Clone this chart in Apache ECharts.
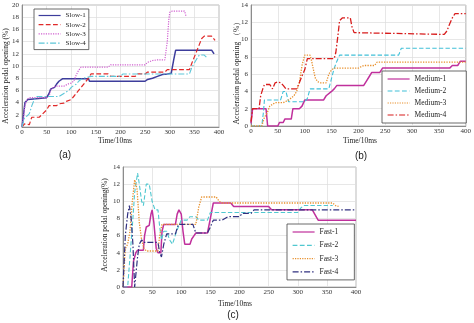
<!DOCTYPE html>
<html><head><meta charset="utf-8">
<script src="https://cdn.jsdelivr.net/npm/echarts@6/dist/echarts.min.js"></script>
<style>html,body{margin:0;padding:0;background:#fff}#c{width:474px;height:323px}</style>
</head><body><div id="c"></div>
<script>
// ---- Data ----
const xTicks = [0,50,100,150,200,250,300,350,400];

const slow1T = [0,3,6,8,12,15,50,55,58,62,66,70,75,82,85,135,137,250,255,265,275,285,295,303,308,312,385,390];
const slow1V = [0,2,4,4.3,4.5,4.8,4.8,5.5,6.2,6.3,6.5,7.0,7.5,7.9,7.9,7.9,7.5,7.5,7.8,8.0,8.3,8.6,8.7,8.8,11,12.6,12.6,12.0];
const slow2T = [0,3,5,8,15,18,20,35,40,50,55,70,75,85,90,100,105,110,115,120,125,130,135,140,175,180,230,235,250,255,290,295,340,345,350,355,360,365,370,385,392];
const slow2V = [0,0.3,0.5,0.4,0.4,1.2,1.6,1.6,2.0,2.8,3.5,3.5,3.8,3.9,4.2,4.5,5.0,5.5,6.0,6.5,7.0,7.5,8.0,8.7,8.7,8.3,8.3,8.7,8.7,9.0,9.0,9.4,9.4,10.5,11.5,12.5,13.5,14.5,14.9,14.9,14.2];
const slow3T = [0,3,6,10,15,50,55,58,62,68,85,90,95,100,105,110,115,120,175,180,250,255,265,275,290,295,298,300,305,330,333];
const slow3V = [0,1.5,3.5,4.5,4.8,4.8,5.0,6.0,6.4,6.7,6.7,6.9,7.1,7.2,7.5,8.5,9.3,9.8,9.8,10.2,10.2,10.6,10.9,11.0,11.0,14,17.5,18.8,19.0,19.0,18.2];
const slow4T = [0,5,10,15,20,25,30,75,85,95,100,105,110,115,120,125,130,140,200,205,340,345,350,355,360,370,375];
const slow4V = [0,1.5,1.8,2.2,3.5,4.5,5.0,5.0,5.5,6.0,6.5,6.8,7.0,7.5,7.8,8.0,8.1,8.3,8.3,8.7,8.7,9.8,10.5,11.2,11.8,11.8,11.4];

const med1T = [0,3,28,31,50,53,60,63,75,78,90,95,100,135,140,150,155,160,210,215,220,225,240,245,370,375,385,390,400];
const med1V = [0.3,2.0,2.0,0,0,0.4,0.4,0.8,0.8,2.0,2.0,2.3,3.0,3.0,3.5,4.0,4.3,4.7,4.7,5.2,5.7,6.2,6.2,6.7,6.7,7.0,7.0,7.5,7.5];
const med2T = [0,20,23,25,55,60,65,70,100,105,110,145,150,155,160,165,275,280,400];
const med2V = [0,0,1.5,3.0,3.0,4.0,4.0,2.8,2.8,3.2,4.3,4.3,5.5,6.7,7.5,8.2,8.2,9.0,9.0];
const med3T = [0,20,25,30,35,45,60,70,80,85,90,95,100,110,113,117,120,125,130,140,145,150,155,200,210,230,235,400];
const med3V = [0,0,1.0,1.5,2.3,2.7,2.7,3.0,3.5,4.0,5.0,7.0,8.2,8.2,7.5,6.3,5.5,5.1,5.0,5.0,6.0,6.5,6.7,6.7,7.0,7.0,7.4,7.4];
const med4T = [0,3,15,18,22,25,35,40,45,50,53,55,60,65,85,90,95,100,105,155,158,162,165,170,185,188,192,195,360,365,370,375,380,400];
const med4V = [0.5,2.0,2.0,3.5,4.3,4.8,4.8,4.3,5.0,5.1,5.3,5.0,4.7,4.3,4.3,5.0,5.8,6.5,7.8,7.8,8.5,10.5,12.2,12.5,12.5,11.5,10.8,10.6,10.6,11.0,11.8,12.5,13.0,13.0];

const fast1T = [0,15,18,22,25,35,37,40,45,48,50,53,57,60,65,67,70,90,93,96,100,103,106,115,118,122,125,145,150,155,185,190,250,255,325,335,400];
const fast1V = [0,0,3.0,4.0,4.3,4.3,6.0,7.0,7.2,8.5,9.0,7.5,4.5,4.0,4.0,6.5,7.3,7.3,8.5,9.0,8.5,6.5,5.0,5.0,5.6,6.0,6.3,6.3,8.0,9.8,9.8,9.4,9.4,9.0,9.0,7.8,7.8];
const fast2T = [0,8,12,17,20,25,28,32,35,40,45,50,55,60,63,66,70,75,80,85,88,92,100,110,115,125,130,145,150,300,305,310,360];
const fast2V = [0,0,3.5,8,11,13.3,12,10,9.5,12.0,12.0,10,9.0,9.0,7,5.5,6.5,6.5,5.5,5.0,5.0,6.5,7.8,7.8,8.2,8.2,7.8,7.8,8.7,8.7,9.2,9.5,9.5];
const fast3T = [0,4,8,12,16,20,24,28,32,36,40,60,63,67,125,130,135,160,165,170,360,365,370];
const fast3V = [0,4.5,5.0,6.5,10,12.5,11.5,7.5,5.5,4.5,4.2,4.2,6.0,7.3,7.3,9.3,10.5,10.5,10.0,9.8,9.8,9.5,9.4];
const fast4T = [0,4,8,11,14,17,20,23,25,28,32,35,60,63,66,70,75,90,95,120,125,145,150,155,170,175,180,200,205,210,220,225,400];
const fast4V = [0,6,8.5,9.5,8.0,5.0,0,0,3.5,5.0,5.5,5.2,5.2,4.0,3.5,5.0,6.2,6.2,7.3,7.3,6.3,6.3,7.0,7.8,7.8,8.0,8.2,8.2,8.6,8.6,8.6,9.0,9.0];

const namesA = ['Slow-1','Slow-2','Slow-3','Slow-4'];
const namesB = ['Medium-1','Medium-2','Medium-3','Medium-4'];
const namesC = ['Fast-1','Fast-2','Fast-3','Fast-4'];

// ---- Build ----
const zip = (t, v) => t.map((x, i) => [x, v[i]]);
const serif = 'Liberation Serif';
const DASHDOT = [6, 2, 1.5, 2];

function mkSeries(name, idx, t, v, color, type, width) {
  return {
    name, type: 'line', xAxisIndex: idx, yAxisIndex: idx,
    data: zip(t, v), symbol: 'none', showSymbol: false, animation: false,
    lineStyle: { color, type, width }, itemStyle: { color }
  };
}

const grids = [
  { left: 22, top: 5, width: 197, height: 122 },
  { left: 251, top: 5, width: 216, height: 121 },
  { left: 123, top: 167, width: 233, height: 120 }
];
const yMax = [20, 14, 14];

const xAxes = grids.map((g, i) => ({
  gridIndex: i, type: 'value', min: 0, max: 400, interval: 50,
  axisLine: { show: true, onZero: false, lineStyle: { color: '#777', width: 0.8 } },
  axisTick: { show: false },
  axisLabel: { fontFamily: serif, fontSize: 7, color: '#333', margin: 2 },
  splitLine: { show: true, lineStyle: { color: '#dcdcdc', width: 0.7 } }
}));
const yAxes = grids.map((g, i) => ({
  gridIndex: i, type: 'value', min: 0, max: yMax[i], interval: 2,
  axisLine: { show: true, lineStyle: { color: '#777', width: 0.8 } },
  axisTick: { show: false },
  axisLabel: { fontFamily: serif, fontSize: 7, color: '#333', margin: 3 },
  splitLine: { show: true, lineStyle: { color: '#dcdcdc', width: 0.7 } }
}));

const series = [
  mkSeries(namesA[0], 0, slow1T, slow1V, '#3d3d9c', 'solid', 1.5),
  mkSeries(namesA[1], 0, slow2T, slow2V, '#e02a2a', 'dashed', 1.2),
  mkSeries(namesA[2], 0, slow3T, slow3V, '#d060d0', 'dotted', 1.2),
  mkSeries(namesA[3], 0, slow4T, slow4V, '#5cc6d8', DASHDOT, 1.1),
  mkSeries(namesB[0], 1, med1T, med1V, '#c0309c', 'solid', 1.5),
  mkSeries(namesB[1], 1, med2T, med2V, '#40c0d8', 'dashed', 1.1),
  mkSeries(namesB[2], 1, med3T, med3V, '#e8902c', 'dotted', 1.3),
  mkSeries(namesB[3], 1, med4T, med4V, '#d81c1c', DASHDOT, 1.3),
  mkSeries(namesC[0], 2, fast1T, fast1V, '#c0309c', 'solid', 1.5),
  mkSeries(namesC[1], 2, fast2T, fast2V, '#50c8d0', 'dashed', 1.1),
  mkSeries(namesC[2], 2, fast3T, fast3V, '#e8902c', 'dotted', 1.3),
  mkSeries(namesC[3], 2, fast4T, fast4V, '#303080', DASHDOT, 1.2)
];

function mkLegend(id, data, left, top, gap, pad, fs) {
  return {
    id, data, left, top, orient: 'vertical', itemWidth: 22, itemHeight: 7, itemGap: gap,
    padding: pad, backgroundColor: '#fff', borderColor: '#444', borderWidth: 0.8,
    textStyle: { fontFamily: serif, fontSize: fs, color: '#222' },
    itemStyle: { opacity: 0 },
    lineStyle: { width: 1.2 },
    selectedMode: false
  };
}

const txt = (x, y, text, o) => ({
  type: 'text', x, y,
  style: Object.assign({ text, fill: '#222', font: '7.5px "Liberation Serif"', textAlign: 'center', textVerticalAlign: 'middle' }, o || {})
});
const vtxt = (x, y, text) => Object.assign(txt(x, y, text), { rotation: Math.PI / 2 });

const option = {
  animation: false,
  backgroundColor: '#fff',
  grid: grids.map(g => Object.assign({ show: true, borderColor: '#aaa', borderWidth: 0.8 }, g)),
  xAxis: xAxes, yAxis: yAxes, series,
  legend: [
    mkLegend('la', namesA, 34, 9, 2.2, [3, 3, 3, 4], 7),
    mkLegend('lb', namesB, 382, 71, 4, [4, 20, 4, 5], 7.5),
    mkLegend('lc', namesC, 287, 224, 5.3, [4, 16, 4, 5], 7.5)
  ],
  graphic: [
    txt(115, 141, 'Time/10ms'),
    txt(360, 141, 'Time/10ms'),
    txt(235, 304, 'Time/10ms'),
    vtxt(6, 76, 'Acceleration pedal opening (%)'),
    vtxt(237, 71, 'Acceleration pedal opening （%）'),
    vtxt(105, 225, 'Acceleration pedal opening(%)'),
    txt(65, 155, '(a)', { font: '10px "Liberation Sans"' }),
    txt(361, 156, '(b)', { font: '10px "Liberation Sans"' }),
    txt(233, 315, '(c)', { font: '10px "Liberation Sans"' })
  ]
};

const chart = echarts.init(document.getElementById('c'), null, { renderer: 'canvas' });
chart.setOption(option);
</script>
</body></html>
